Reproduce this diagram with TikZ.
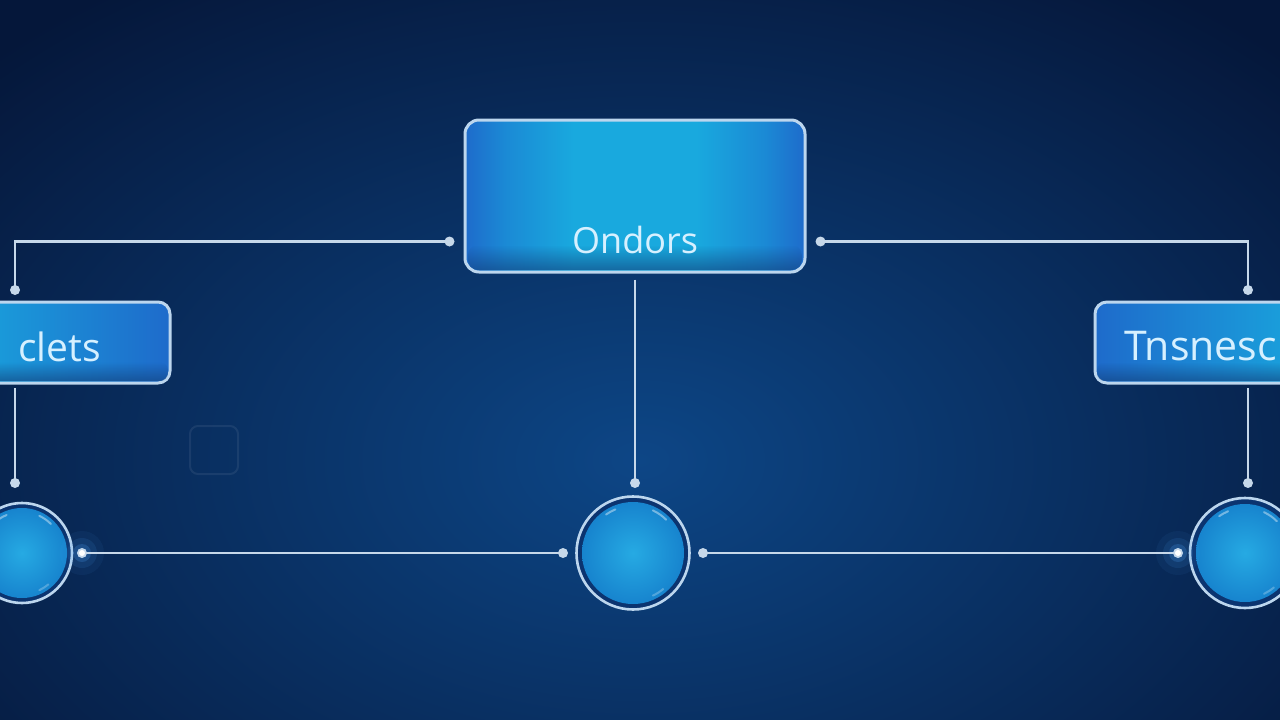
\documentclass[tikz,border=0pt]{standalone}
\usepackage{fontspec}
\setmainfont{Open Sans}
\usetikzlibrary{calc,fadings}
\definecolor{bgin}{HTML}{0D4686}
\definecolor{bgout}{HTML}{05173A}
\definecolor{boxmid}{HTML}{19A9DE}
\definecolor{boxmix}{HTML}{1B8AD5}
\definecolor{boxedge}{HTML}{1E6BCB}
\definecolor{ringc}{HTML}{BCD6EE}
\definecolor{linec}{HTML}{C6D8EA}
\definecolor{textc}{HTML}{D6F0FF}
\definecolor{gapc}{HTML}{0B3470}
\definecolor{ballin}{HTML}{26AAE3}
\definecolor{ballout}{HTML}{1784CE}
\definecolor{glowc}{HTML}{4FA8FF}
\pgfdeclarehorizontalshading{topboxshade}{100bp}{color(0bp)=(boxedge); color(25bp)=(boxedge); color(31bp)=(boxmix); color(41bp)=(boxmid); color(59bp)=(boxmid); color(69bp)=(boxmix); color(75bp)=(boxedge); color(100bp)=(boxedge)}
\tikzfading[name=fadeup, top color=transparent!100, bottom color=transparent!0]
\begin{document}
\begin{tikzpicture}[x=1pt,y=-1pt,
  boxstyle/.style={rectangle, rounded corners=14pt, draw=ringc, line width=3pt, inner sep=0pt},
  lbl/.style={text=textc, inner sep=0pt},
  conn/.style={draw=linec, line width=2.6pt},
  dot/.style={fill=linec},
  ring/.style={circle, draw=ringc, line width=2.6pt, fill=gapc, inner sep=0pt}]
\useasboundingbox (0,0) rectangle (1280,720);
\clip (0,0) rectangle (1280,720);
% background
\shade[inner color=bgin, outer color=bgout] (-260,-120) rectangle (1540,1040);
% faint square
\draw[draw=white, opacity=0.07, line width=2pt, rounded corners=8pt] (190,426) rectangle (238,474);

% boxes
\node[boxstyle, minimum width=340pt, minimum height=152pt, shading=topboxshade] (orders) at (635,196) {};
\node[boxstyle, rounded corners=12pt, minimum width=230pt, minimum height=81pt, left color=boxmid, right color=boxedge] (clients) at (55,342.5) {};
\node[boxstyle, rounded corners=12pt, minimum width=230pt, minimum height=81pt, left color=boxedge, right color=boxmid] (trans) at (1210,342.5) {};
% bottom darker bands
\fill[boxedge!60!black, path fading=fadeup, opacity=0.6, rounded corners=10pt] (468,245) rectangle (802,270);
\fill[boxedge!60!black, path fading=fadeup, opacity=0.6, rounded corners=8pt] (-40,362) rectangle (168,381);
\fill[boxedge!60!black, path fading=fadeup, opacity=0.6, rounded corners=8pt] (1097,362) rectangle (1300,381);

\node[lbl, font=\fontsize{36}{36}\selectfont] (ordersT) at (635,240) {Ondors};
\node[lbl, anchor=east, font=\fontsize{39}{39}\selectfont] (clientsT) at (101,347) {clets};
\node[lbl, anchor=west, font=\fontsize{41}{41}\selectfont] (transT) at (1124,346) {Tnsnesc};

% circles
\node[ring, minimum size=100pt] (c1) at (22,553) {};
\node[ring, minimum size=113pt] (c2) at (633,553) {};
\node[ring, minimum size=110pt] (c3) at (1245,553) {};
\shade[inner color=ballin, outer color=ballout] (c1) circle (45);
\shade[inner color=ballin, outer color=ballout] (c2) circle (51);
\shade[inner color=ballin, outer color=ballout] (c3) circle (49);
\foreach \c/\r in {c1/41,c2/47,c3/45}{
  \draw[white, opacity=0.4, line width=2pt, line cap=round] ($(\c)+(-125:\r)$) arc[start angle=-125, end angle=-112, radius=\r];
  \draw[white, opacity=0.4, line width=2pt, line cap=round] ($(\c)+(-65:\r)$) arc[start angle=-65, end angle=-45, radius=\r];
  \draw[white, opacity=0.25, line width=2pt, line cap=round] ($(\c)+(50:\r)$) arc[start angle=50, end angle=65, radius=\r];
}

% glows
\foreach \p in {(82,553),(1178,553)}{
  \foreach \rr/\o in {22/0.06,15/0.1,9/0.2,5/0.4}{
    \fill[glowc, opacity=\o] \p circle (\rr);
  }
}

% connector end points
\coordinate (oL) at ($(orders.south west)+(-14,-32)$);
\coordinate (oR) at ($(orders.south east)+(14,-32)$);
\coordinate (oB) at ($(orders.south)+(0,6)$);
\coordinate (clTop) at (15,290);
\coordinate (trTop) at (1248,290);
\coordinate (clB) at (15,388);
\coordinate (trB) at (1248,388);
\coordinate (c1Top) at (15,483);
\coordinate (c2Top) at (635,483);
\coordinate (c3Top) at (1248,483);
\coordinate (c1R) at (82,553);
\coordinate (c2L) at (563,553);
\coordinate (c2R) at (703,553);
\coordinate (c3L) at (1178,553);

\draw[conn] (oL) -| (clTop);
\draw[conn] (oR) -| (trTop);
\draw[conn] (clB) -- (c1Top);
\draw[conn] (trB) -- (c3Top);
\draw[conn] (oB) -- (c2Top);
\draw[conn] (c1R) -- (c2L);
\draw[conn] (c2R) -- (c3L);
\foreach \d in {oL,oR,clTop,trTop,c1Top,c2Top,c3Top,c1R,c2L,c2R,c3L}{
  \fill[dot] (\d) circle (5);
}
\fill[white] (c1R) circle (3);
\fill[white] (c3L) circle (3);
\end{tikzpicture}
\end{document}
